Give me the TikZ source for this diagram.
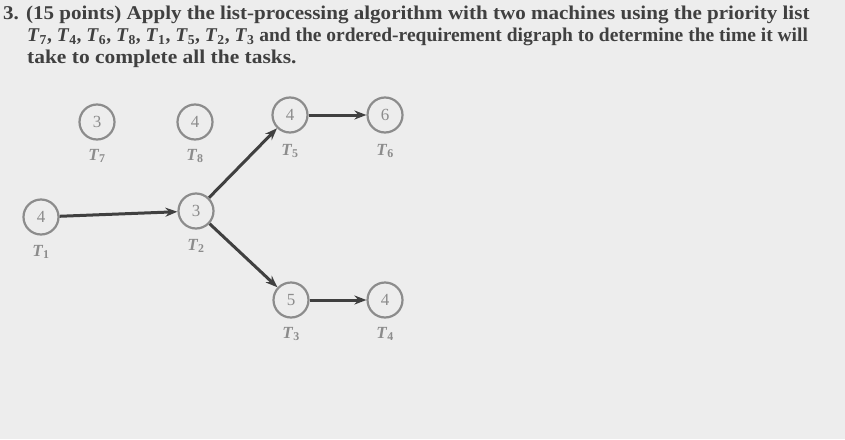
\documentclass[tikz,border=0pt]{standalone}
\usepackage{fontspec}
\setmainfont{Liberation Serif}
\usetikzlibrary{arrows.meta}
\definecolor{bg}{gray}{0.93}
\definecolor{ink}{gray}{0.25}
\definecolor{ring}{gray}{0.55}
\newcommand{\tk}[1]{\textit{T}\textsubscript{#1}}
\begin{document}
\begin{tikzpicture}[x=1pt,y=-1pt,
  task/.style={circle,draw=ring,line width=2.2pt,minimum size=35pt,inner sep=0pt,text=ring,font=\fontsize{17}{17}\selectfont},
  tlabel/.style={text=ring,font=\fontsize{17}{17}\selectfont\bfseries},
  prob/.style={anchor=west,text=ink,inner sep=0pt,font=\fontsize{19.5}{19.5}\selectfont\bfseries},
  arr/.style={-{Stealth[length=12pt,width=9pt]},draw=ink,line width=3pt}]
\fill[bg] (0,0) rectangle (845,439);
\useasboundingbox (0,0) rectangle (845,439);
\node[prob] (l1) at (3,15) {\scalebox{1.08}[1]{3. (15 points) Apply the list-processing algorithm with two machines using the priority list}};
\node[prob] (l2) at (27,37) {\tk7, \tk4, \tk6, \tk8, \tk1, \tk5, \tk2, \tk3 and the ordered-requirement digraph to determine the time it will};
\node[prob] (l3) at (27,59) {\scalebox{1.1}[1]{take to complete all the tasks.}};
\node[task] (t7) at (97,122) {3};
\node[tlabel] at (97,156) {\tk7};
\node[task] (t8) at (195,122) {4};
\node[tlabel] at (195,156) {\tk8};
\node[task] (t5) at (290,115) {4};
\node[tlabel] at (290,151) {\tk5};
\node[task] (t6) at (385,115) {6};
\node[tlabel] at (385,151) {\tk6};
\node[task] (t1) at (41,217) {4};
\node[tlabel] at (41,252) {\tk1};
\node[task] (t2) at (196,211) {3};
\node[tlabel] at (196,246) {\tk2};
\node[task] (t3) at (291,300) {5};
\node[tlabel] at (291,334) {\tk3};
\node[task] (t4) at (385,300) {4};
\node[tlabel] at (385,334) {\tk4};
\draw[arr] (t1) -- (t2);
\draw[arr] (t2) -- (t5);
\draw[arr] (t2) -- (t3);
\draw[arr] (t5) -- (t6);
\draw[arr] (t3) -- (t4);
\end{tikzpicture}
\end{document}
